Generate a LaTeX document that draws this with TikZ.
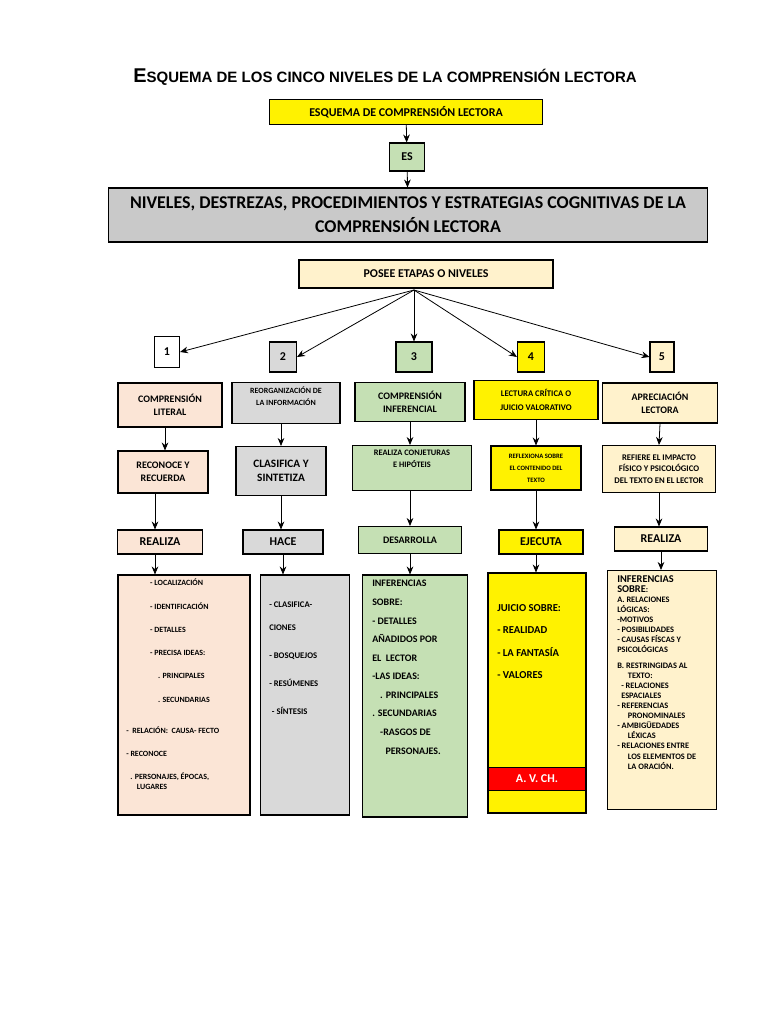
\documentclass[tikz,border=0pt]{standalone}
\usepackage{fontspec}
\setmainfont{Carlito}
\newfontfamily\titlefont{Liberation Sans}
\usetikzlibrary{arrows.meta,positioning}

\definecolor{pinkbox}{HTML}{FBE5D6}
\definecolor{graybox}{HTML}{D9D9D9}
\definecolor{greenbox}{HTML}{C5E0B4}
\definecolor{creambox}{HTML}{FFF2CC}
\definecolor{titlegray}{HTML}{C9C9C9}

\tikzset{
    sz/.style 2 args={minimum width=#1*0.02646cm, minimum height=#2*0.02646cm},
    box/.style={rectangle, draw, thick, inner sep=1pt, align=center, font=\bfseries\fontsize{7.5}{10}\selectfont},
    pinkb/.style={box, fill=pinkbox},
    grayb/.style={box, fill=graybox},
    greenb/.style={box, fill=greenbox},
    yellowb/.style={box, fill=yellow},
    creamb/.style={box, fill=creambox},
    numb/.style={box, font=\bfseries\small},
    listtxt/.style={anchor=north west, align=left, font=\bfseries\fontsize{6.5}{9}\selectfont, inner sep=0pt},
    arrow/.style={-{Stealth[length=6pt,width=5pt]}, semithick}
}

\begin{document}
\begin{tikzpicture}[x=0.02646cm, y=-0.02646cm]
\useasboundingbox (0,0) rectangle (768,1024);

% Title
\node[font=\titlefont\bfseries\fontsize{11.3}{14}\selectfont] (title) at (385,77)
    {{\fontsize{15}{15}\selectfont E}SQUEMA DE LOS CINCO NIVELES DE LA COMPRENSIÓN LECTORA};

% Top layer
\node[yellowb, sz={273}{25}, font=\bfseries\small] (esquema) at (406,112) {ESQUEMA DE COMPRENSIÓN LECTORA};
\node[greenb, sz={35}{28}, font=\bfseries\small] (es) at (407,157) {ES};
\node[box, fill=titlegray, sz={599}{54}, font=\bfseries\fontsize{13.5}{18}\selectfont] (niveles) at (408,215)
    {NIVELES, DESTREZAS, PROCEDIMIENTOS Y ESTRATEGIAS COGNITIVAS DE LA\\COMPRENSIÓN LECTORA};
\node[creamb, sz={254}{28}, font=\bfseries\small] (posee) at (426,274) {POSEE ETAPAS O NIVELES};
\coordinate (split) at (414,290);

% Numbers
\node[numb, fill=white, sz={25}{31}] (n1) at (167,352) {1};
\node[numb, fill=graybox, sz={27}{30}] (n2) at (283,357) {2};
\node[numb, fill=greenbox, sz={36}{30}] (n3) at (414,357) {3};
\node[numb, fill=yellow, sz={27}{30}] (n4) at (531,357) {4};
\node[numb, fill=creambox, sz={24}{30}] (n5) at (662,357) {5};

% Levels
\node[pinkb, sz={104}{44}] (literal) at (170,405) {COMPRENSIÓN\\LITERAL};
\node[grayb, sz={108}{41}, font=\bfseries\fontsize{6}{9}\selectfont, anchor=north, text depth=10pt] (reorg) at (286,382) {REORGANIZACIÓN DE\\LA INFORMACIÓN};
\node[greenb, sz={110}{39}] (inferencial) at (410,402) {COMPRENSIÓN\\INFERENCIAL};
\node[yellowb, sz={124}{39}, font=\bfseries\fontsize{6.5}{10}\selectfont] (critica) at (536,400) {LECTURA CRÍTICA O\\JUICIO VALORATIVO};
\node[creamb, sz={115}{40}] (apreciacion) at (660,403) {APRECIACIÓN\\LECTORA};

% Second row
\node[pinkb, sz={90}{42}] (reconoce) at (163,472) {RECONOCE Y\\RECUERDA};
\node[grayb, sz={90}{49}, font=\bfseries\fontsize{8.5}{11}\selectfont] (clasifica) at (281,471) {CLASIFICA Y\\SINTETIZA};
\node[greenb, sz={119}{45}, font=\bfseries\fontsize{6.3}{9}\selectfont, anchor=north, text depth=14pt] (conjeturas) at (412,445) {REALIZA CONJETURAS\\E HIPÓTEIS};
\node[yellowb, sz={90}{44}, font=\bfseries\fontsize{5}{9}\selectfont] (reflexiona) at (536,468) {REFLEXIONA SOBRE\\EL CONTENIDO DEL\\TEXTO};
\node[creamb, sz={113}{47}, font=\bfseries\fontsize{6.5}{8.5}\selectfont] (refiere) at (659,469) {REFIERE EL IMPACTO\\FÍSICO Y PSICOLÓGICO\\DEL TEXTO EN EL LECTOR};

% Third row
\node[pinkb, sz={85}{24}, font=\bfseries\small] (realiza) at (160,542) {REALIZA};
\node[grayb, sz={80}{24}, font=\bfseries\small] (hace) at (283,542) {HACE};
\node[greenb, sz={103}{27}] (desarrolla) at (410,540) {DESARROLLA};
\node[yellowb, sz={84}{24}, font=\bfseries\small] (ejecuta) at (541,542) {EJECUTA};
\node[creamb, sz={93}{24}, font=\bfseries\small] (realizab) at (661,539) {REALIZA};

% Lists
\node[pinkb, sz={132}{240}] (list1) at (184,695) {};
\node[grayb, sz={89}{240}] (list2) at (305,695) {};
\node[greenb, sz={105}{242}] (list3) at (415,696) {};
\node[yellowb, sz={98}{240}] (list4) at (537,693) {};
\node[box, fill=red, sz={98}{23}, text=white, font=\bfseries\small] (avch) at (537,779) {A. V. CH.};
\node[creamb, sz={109}{239}] (list5) at (662,690) {};

\node[listtxt, font=\bfseries\fontsize{6}{7.5}\selectfont] (txt1) at (126,579)
    {\hspace{18pt}- LOCALIZACIÓN\\[10pt]\hspace{18pt}- IDENTIFICACIÓN\\[10pt]\hspace{18pt}- DETALLES\\[10pt]
     \hspace{18pt}- PRECISA IDEAS:\\[10pt]\hspace{24pt}. PRINCIPALES\\[10pt]\hspace{24pt}. SECUNDARIAS\\[16pt]
     - \ RELACIÓN: \ CAUSA- FECTO\\[10pt]- RECONOCE\\[10pt]\hspace{3pt}. PERSONAJES, ÉPOCAS,\\\hspace{8pt}LUGARES};
\node[listtxt] (txt2) at (269,602)
    {- CLASIFICA-\\[8pt]CIONES\\[12pt]- BOSQUEJOS\\[12pt]- RESÚMENES\\[12pt]\hspace{2pt}- SÍNTESIS};
\node[listtxt, font=\bfseries\fontsize{7.5}{10}\selectfont] (txt3) at (372,580)
    {INFERENCIAS\\[4pt]SOBRE:\\[4pt]- DETALLES\\[4pt]AÑADIDOS POR\\[4pt]EL \ LECTOR\\[4pt]-LAS IDEAS:\\[4pt]
     \hspace{6pt}. PRINCIPALES\\[4pt]. SECUNDARIAS\\[4pt]\hspace{6pt}-RASGOS DE\\[4pt]\hspace{10pt}PERSONAJES.};
\node[listtxt, font=\bfseries\fontsize{8}{10}\selectfont] (txt4) at (497,604)
    {JUICIO SOBRE:\\[7pt]- REALIDAD\\[7pt]- LA FANTASÍA\\[7pt]- VALORES};
\node[listtxt, font=\bfseries\fontsize{6.3}{7.6}\selectfont] (txt5) at (617,575)
    {{\fontsize{7.8}{9.5}\selectfont INFERENCIAS}\\{\fontsize{7.8}{9.5}\selectfont SOBRE}:\\A. RELACIONES\\LÓGICAS:\\-MOTIVOS\\- POSIBILIDADES\\
     - CAUSAS FÍSCAS Y\\PSICOLÓGICAS\\[4pt]B. RESTRINGIDAS AL\\\hspace{8pt}TEXTO:\\\hspace{3pt}- RELACIONES\\\hspace{3pt}ESPACIALES\\
     - REFERENCIAS\\\hspace{8pt}PRONOMINALES\\- AMBIGÜEDADES\\\hspace{8pt}LÉXICAS\\- RELACIONES ENTRE\\\hspace{8pt}LOS ELEMENTOS DE\\\hspace{8pt}LA ORACIÓN.};

% Arrows
\draw[arrow] (esquema) -- (es);
\draw[arrow] (es) -- (niveles);
\draw[arrow] (split) -- (n1.east);
\draw[arrow] (split) -- (n2.east);
\draw[arrow] (split) -- (n3.north);
\draw[arrow] (split) -- (n4.west);
\draw[arrow] (split) -- (n5.west);

\draw[arrow] (literal.south -| reconoce.north) ++(2,0) coordinate (c1) -- (c1 |- reconoce.north);
\draw[arrow] (reorg.south -| clasifica.north) -- (clasifica.north);
\draw[arrow] (inferencial.south -| conjeturas.north) ++(-2,0) coordinate (c3) -- (c3 |- conjeturas.north);
\draw[arrow] (critica.south) -- (reflexiona.north);
\draw[arrow] (apreciacion.south) -- (refiere.north);

\draw[arrow] (reconoce.south -| realiza.north) ++(-5,0) coordinate (d1) -- (d1 |- realiza.north);
\draw[arrow] (clasifica.south) -- (clasifica.south |- hace.north);
\draw[arrow] (conjeturas.south -| desarrolla.north) -- (desarrolla.north);
\draw[arrow] (reflexiona.south) -- (reflexiona.south |- ejecuta.north);
\draw[arrow] (refiere.south) -- (refiere.south |- realizab.north);

\draw[arrow] (realiza.south) ++(-5,0) coordinate (e1) -- (e1 |- list1.north);
\draw[arrow] (hace.south) -- (hace.south |- list2.north);
\draw[arrow] (desarrolla.south) -- (desarrolla.south |- list3.north);
\draw[arrow] (ejecuta.south) ++(-5,0) coordinate (e4) -- (e4 |- list4.north);
\draw[arrow] (realizab.south) -- (realizab.south |- list5.north);
\end{tikzpicture}
\end{document}
